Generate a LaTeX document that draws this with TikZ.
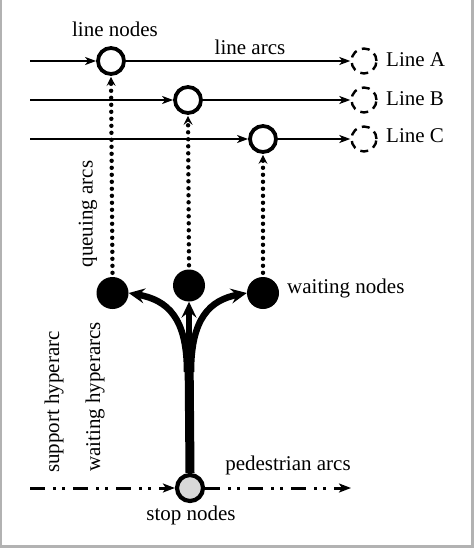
\documentclass[tikz,border=0pt]{standalone}
\usepackage{fontspec}
\setmainfont{Liberation Serif}
\usetikzlibrary{arrows.meta}
\begin{document}
\begin{tikzpicture}[x=1pt,y=-1pt,
  every node/.style={font=\fontsize{21}{25}\selectfont},
  linenode/.style={circle,draw,line width=3.8pt,fill=white,minimum size=26pt,inner sep=0pt},
  dashnode/.style={circle,draw,line width=2.4pt,dash pattern=on 8pt off 5.7pt,minimum size=25pt,inner sep=0pt},
  waitnode/.style={circle,fill=black,minimum size=32pt,inner sep=0pt},
  stopnode/.style={circle,draw,line width=4.2pt,fill=black!15,minimum size=26pt,inner sep=0pt},
  linearc/.style={line width=1.6pt,-{Stealth[length=11pt,width=8pt,inset=3pt]}},
  queuearc/.style={line width=4.4pt,line cap=round,dash pattern=on 0pt off 7pt,-{Stealth[length=9pt,width=9pt,inset=3.5pt]},shorten >=1pt},
  hyper/.style={line width=6.5pt,-{Stealth[length=16pt,width=15pt,inset=6pt]}},
  pedarc/.style={line width=3pt,dash pattern=on 15pt off 8pt on 3pt off 6pt on 3pt off 8pt,-{Stealth[length=12pt,width=9pt,inset=3pt]}},
  lbl/.style={inner sep=0pt}
]
\useasboundingbox (0,0) rectangle (474,548);
% frame
\draw[line width=2.5pt,draw=black!30] (1.2,-2) -- (1.2,546.5) -- (472.5,546.5) -- (472.5,-2);

% start coordinates
\coordinate (sA) at (30,61);
\coordinate (sB) at (30,100);
\coordinate (sC) at (30,139);

% line nodes
\node[linenode] (nA) at (111,61) {};
\node[linenode] (nB) at (188,100) {};
\node[linenode] (nC) at (263,139) {};

% dashed end nodes
\node[dashnode] (eA) at (364,61) {};
\node[dashnode] (eB) at (364,100) {};
\node[dashnode] (eC) at (364,139) {};

\node[lbl,anchor=west] (tA) at (386,60) {Line A};
\node[lbl,anchor=west] (tB) at (386,99) {Line B};
\node[lbl,anchor=west] (tC) at (386,136) {Line C};

\draw[linearc] (sA) -- (nA);
\draw[linearc] (nA) -- (eA);
\draw[linearc] (sB) -- (nB);
\draw[linearc] (nB) -- (eB);
\draw[linearc] (sC) -- (nC);
\draw[linearc] (nC) -- (eC);

\node[lbl] (tln) at (115,29) {line nodes};
\node[lbl] (tla) at (250,47) {line arcs};

% waiting nodes
\node[waitnode] (wA) at (112.5,293) {};
\node[waitnode] (wB) at (189,285.5) {};
\node[waitnode] (wC) at (263,293) {};
\node[lbl,anchor=west] (twn) at (287,288) {waiting nodes};

% queuing arcs
\draw[queuearc] (wA.north) ++(0,-4) -- (nA.south);
\draw[queuearc] (wB.north) ++(0,-4) -- (nB.south);
\draw[queuearc] (wC.north) ++(0,-4) -- (nC.south);
\node[lbl,rotate=90] (tqa) at (88,214) {queuing arcs};

% stop node and pedestrian arcs
\node[stopnode] (st) at (190,488) {};
\coordinate (pS) at (30,488);
\coordinate (pE) at (351,488);
\draw[pedarc] (pS) -- (st);
\draw[pedarc] (st) -- (pE);
\node[lbl] (tpa) at (288,465) {pedestrian arcs};
\node[lbl] (tsn) at (191,515) {stop nodes};

% hyperarcs
\coordinate (tr) at (189,350);
\draw[line width=9pt] (st.north) -- (tr);
\draw[hyper] (189,372) -- (wB.south);
\draw[hyper] (187,372) .. controls (187,318) and (168,300) .. (wA.east);
\draw[hyper] (191,372) .. controls (191,318) and (210,300) .. (wC.west);

\node[lbl,rotate=90] (tsh) at (54,402) {support hyperarc};
\node[lbl,rotate=90] (twh) at (95,397) {waiting hyperarcs};
\end{tikzpicture}
\end{document}
